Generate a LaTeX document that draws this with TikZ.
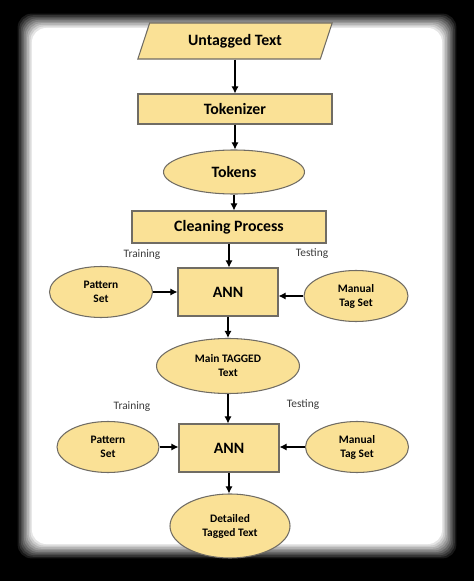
\documentclass[tikz,border=0pt]{standalone}
\usepackage{fontspec}
\setsansfont{Carlito}
\usetikzlibrary{shapes.geometric,arrows.meta}

\definecolor{tagfill}{RGB}{250,225,150}
\definecolor{tagline}{RGB}{112,108,100}
\definecolor{labelgray}{RGB}{60,60,60}

\tikzset{
    box/.style={draw=tagline, fill=tagfill, line width=0.6pt, font=\sffamily\bfseries\fontsize{9}{10}\selectfont},
    blob/.style={ellipse, draw=tagline, fill=tagfill, line width=0.6pt, inner sep=0pt, align=center,
                 font=\sffamily\bfseries\fontsize{6.5}{8}\selectfont},
    phase/.style={text=labelgray, font=\sffamily\fontsize{6.5}{8}\selectfont},
    flow/.style={->, line width=0.6pt}
}

\begin{document}
\begin{tikzpicture}[>={Latex[length=4pt,width=4pt]}]
    % Rahmen mit weichem Rand
    \fill[black] (0, 0) rectangle (9.48, 11.62);
    \foreach \i in {1,...,10}
        \fill[white!\the\numexpr\i*10\relax!black, rounded corners=8pt]
            (0.32+0.032*\i, 0.42+0.032*\i) rectangle (9.16-0.032*\i, 11.38-0.032*\i);
    \useasboundingbox (0, 0) rectangle (9.48, 11.62);

    % Vorverarbeitung
    \node[box, trapezium, trapezium left angle=74, trapezium right angle=106, trapezium stretches=true,
          minimum width=3.9cm, minimum height=0.72cm] (untagged) at (4.70, 10.80) {Untagged Text};
    \node[box, minimum width=3.88cm, minimum height=0.60cm] (tokenizer) at (4.70, 9.44) {Tokenizer};
    \node[box, ellipse, minimum width=2.82cm, minimum height=0.88cm, inner sep=0pt] (tokens) at (4.68, 8.18) {Tokens};
    \node[box, minimum width=3.88cm, minimum height=0.64cm] (cleaning) at (4.58, 7.08) {Cleaning Process};

    \draw[flow] (untagged.south) -- (untagged.south |- tokenizer.north);
    \draw[flow] (tokenizer.south) -- (tokenizer.south |- tokens.north);
    \draw[flow] (tokens.south) -- (tokens.south |- cleaning.north);

    % erste Stufe
    \node[box, minimum width=2.0cm, minimum height=0.96cm] (annA) at (4.56, 5.78) {ANN};
    \node[blob, minimum width=2.06cm, minimum height=1.02cm] (patternA) at (2.02, 5.78) {Pattern\\Set};
    \node[blob, minimum width=2.08cm, minimum height=1.02cm] (manualA) at (7.12, 5.70) {Manual\\Tag Set};
    \node[phase] (trainA) at (2.84, 6.52) {Training};
    \node[phase] (testA) at (6.24, 6.54) {Testing};
    \node[blob, minimum width=2.86cm, minimum height=1.10cm] (maintagged) at (4.56, 4.30) {Main TAGGED\\Text};

    \draw[flow] (cleaning.south) -- (cleaning.south |- annA.north);
    \draw[flow] (patternA.east) -- (patternA.east -| annA.west);
    \draw[flow] (manualA.west) -- (manualA.west -| annA.east);
    \draw[flow] (annA.south) -- (annA.south |- maintagged.north);

    % zweite Stufe
    \node[box, minimum width=2.0cm, minimum height=0.96cm] (annB) at (4.58, 2.66) {ANN};
    \node[blob, minimum width=2.04cm, minimum height=1.02cm] (patternB) at (2.16, 2.68) {Pattern\\Set};
    \node[blob, minimum width=2.06cm, minimum height=1.02cm] (manualB) at (7.14, 2.68) {Manual\\Tag Set};
    \node[phase] (trainB) at (2.64, 3.48) {Training};
    \node[phase] (testB) at (6.06, 3.52) {Testing};
    \node[blob, minimum width=2.40cm, minimum height=1.28cm] (detailed) at (4.60, 1.10) {Detailed\\Tagged Text};

    \draw[flow] (maintagged.south) -- (maintagged.south |- annB.north);
    \draw[flow] (patternB.east) -- (patternB.east -| annB.west);
    \draw[flow] (manualB.west) -- (manualB.west -| annB.east);
    \draw[flow] (annB.south) -- (annB.south |- detailed.north);
\end{tikzpicture}
\end{document}
